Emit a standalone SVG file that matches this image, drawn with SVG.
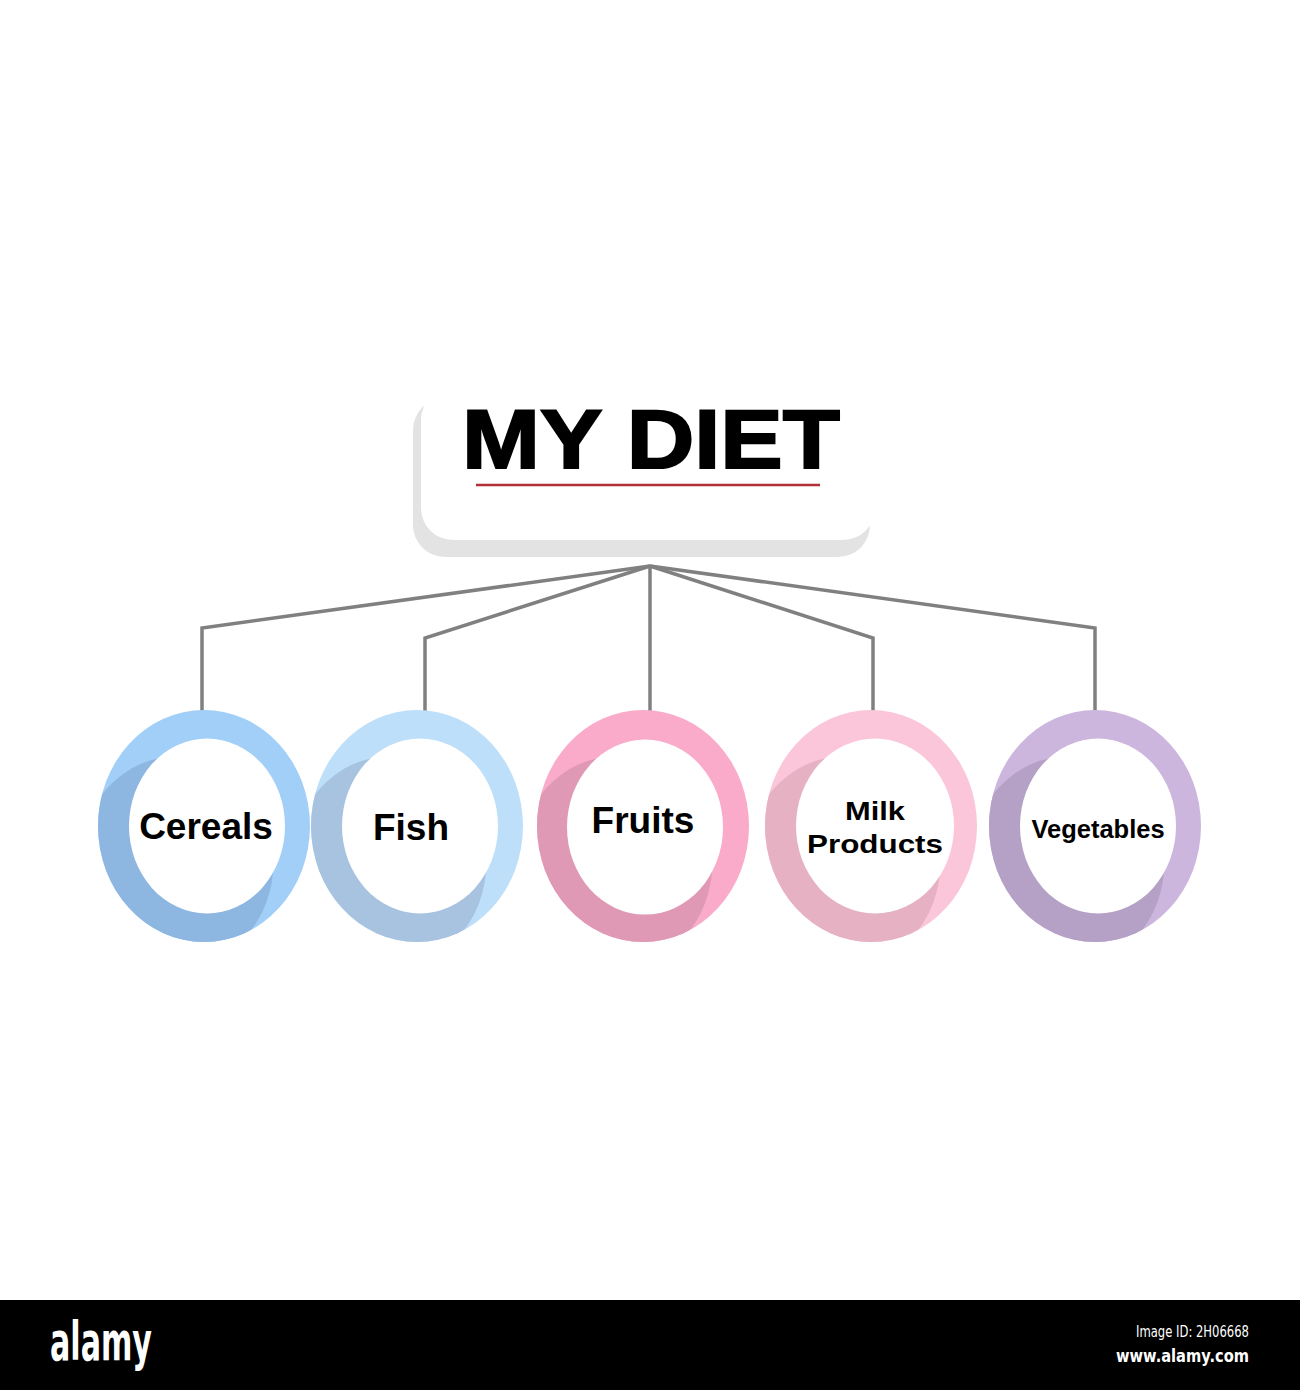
<svg xmlns="http://www.w3.org/2000/svg" width="1300" height="1390" viewBox="0 0 1300 1390">
<style>
.lbl{font-family:"Liberation Sans",Arial,sans-serif;font-weight:bold;fill:#000;text-anchor:middle}
.conn{fill:none;stroke:#808080;stroke-width:3.5;stroke-linejoin:miter}
.hole{fill:#fff}
</style>
<defs>
<clipPath id="ringClip" clipPathUnits="userSpaceOnUse"><circle r="106"/></clipPath>
</defs>
<rect width="1300" height="1390" fill="#fff"/>

<g id="title">
<rect x="413" y="398" width="457" height="159" rx="32" fill="#e3e3e3"/>
<rect x="421" y="388" width="454" height="152" rx="32" fill="#fff"/>
<text x="651" y="468" class="lbl" font-size="84" stroke="#000" stroke-width="2" textLength="378" lengthAdjust="spacingAndGlyphs">MY DIET</text>
<line x1="476" y1="485" x2="820" y2="485" stroke="#b3303a" stroke-width="2.5"/>
</g>

<g id="connectors">
<polyline class="conn" points="650,566 202,628 202,712"/>
<polyline class="conn" points="650,566 425,638 425,712"/>
<polyline class="conn" points="650,566 650,712"/>
<polyline class="conn" points="650,566 873,638 873,712"/>
<polyline class="conn" points="650,566 1095,628 1095,712"/>
</g>

<g id="node-cereals" transform="translate(204,826)">
<g transform="scale(1,1.094)">
<circle r="106" fill="#a2cff8"/>
<circle cx="-27.6" cy="33.5" r="97" fill="#8db6e1" clip-path="url(#ringClip)"/>
<ellipse class="hole" cx="3" cy="0" rx="78" ry="80"/>
</g>
<text x="2" y="13" class="lbl" font-size="37">Cereals</text>
</g>

<g id="node-fish" transform="translate(417,826)">
<g transform="scale(1,1.094)">
<circle r="106" fill="#bedff9"/>
<circle cx="-27.6" cy="33.5" r="97" fill="#a7c3e0" clip-path="url(#ringClip)"/>
<ellipse class="hole" cx="3" cy="0" rx="78" ry="80"/>
</g>
<text x="-6" y="14" class="lbl" font-size="37">Fish</text>
</g>

<g id="node-fruits" transform="translate(643,826)">
<g transform="scale(1,1.094)">
<circle r="106" fill="#f9abc9"/>
<circle cx="-27.6" cy="33.5" r="97" fill="#e099b4" clip-path="url(#ringClip)"/>
<ellipse class="hole" cx="2" cy="1" rx="78" ry="80"/>
</g>
<text x="0" y="7" class="lbl" font-size="37">Fruits</text>
</g>

<g id="node-milk" transform="translate(871,826)">
<g transform="scale(1,1.094)">
<circle r="106" fill="#fbc6da"/>
<circle cx="-27.6" cy="33.5" r="97" fill="#e5b1c3" clip-path="url(#ringClip)"/>
<ellipse class="hole" cx="4" cy="0" rx="79" ry="80"/>
</g>
<text x="4" y="-6" class="lbl" font-size="25.5" textLength="60" lengthAdjust="spacingAndGlyphs">Milk</text>
<text x="4" y="27" class="lbl" font-size="25.5" textLength="136" lengthAdjust="spacingAndGlyphs">Products</text>
</g>

<g id="node-vegetables" transform="translate(1095,826)">
<g transform="scale(1,1.094)">
<circle r="106" fill="#ccb6de"/>
<circle cx="-27.6" cy="33.5" r="97" fill="#b5a0c6" clip-path="url(#ringClip)"/>
<ellipse class="hole" cx="3" cy="0" rx="78" ry="80"/>
</g>
<text x="3" y="12" class="lbl" font-size="25.5">Vegetables</text>
</g>

<g id="footer">
<rect x="0" y="1300" width="1300" height="90" fill="#000"/>
<text x="50" y="1360" font-family="DejaVu Sans,sans-serif" font-weight="bold" font-size="54" fill="#fff" textLength="102" lengthAdjust="spacingAndGlyphs">alamy</text>
<text x="1249" y="1337" font-family="DejaVu Sans,sans-serif" font-size="15" fill="#fff" text-anchor="end" textLength="113" lengthAdjust="spacingAndGlyphs">Image ID: 2H06668</text>
<text x="1249" y="1362" font-family="DejaVu Sans,sans-serif" font-weight="bold" font-size="17" fill="#fff" text-anchor="end" textLength="133" lengthAdjust="spacingAndGlyphs">www.alamy.com</text>
</g>
</svg>
